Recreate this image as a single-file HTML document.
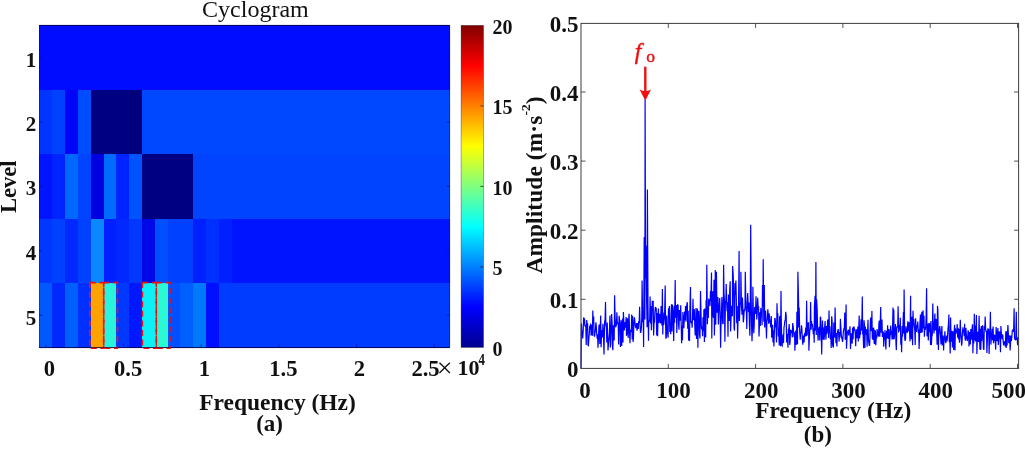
<!DOCTYPE html>
<html><head><meta charset="utf-8"><title>Cyclogram</title>
<style>
html,body{margin:0;padding:0;background:#fff;}
body{width:1025px;height:449px;overflow:hidden;}
svg{display:block;}
text{font-family:"Liberation Serif","Times New Roman",serif;fill:#111;}
.b{font-weight:bold;}
</style></head><body>
<svg width="1025" height="449" viewBox="0 0 1025 449">
<rect x="0" y="0" width="1025" height="449" fill="#ffffff"/>
<g shape-rendering="crispEdges">
<rect x="39.40" y="25.40" width="410.70" height="64.70" fill="#000cff"/>
<rect x="39.40" y="89.80" width="13.13" height="64.70" fill="#0034ff"/>
<rect x="52.23" y="89.80" width="13.13" height="64.70" fill="#0040ff"/>
<rect x="65.05" y="89.80" width="13.13" height="64.70" fill="#0004f8"/>
<rect x="77.88" y="89.80" width="13.13" height="64.70" fill="#004cff"/>
<rect x="90.70" y="89.80" width="38.77" height="64.70" fill="#000083"/>
<rect x="129.18" y="89.80" width="13.13" height="64.70" fill="#00007c"/>
<rect x="142.00" y="89.80" width="308.10" height="64.70" fill="#0048ff"/>
<rect x="39.40" y="154.20" width="13.13" height="64.70" fill="#0014ff"/>
<rect x="52.23" y="154.20" width="13.13" height="64.70" fill="#0024ff"/>
<rect x="65.05" y="154.20" width="13.13" height="64.70" fill="#0068ff"/>
<rect x="77.88" y="154.20" width="13.13" height="64.70" fill="#0044ff"/>
<rect x="90.70" y="154.20" width="13.13" height="64.70" fill="#0000e0"/>
<rect x="103.53" y="154.20" width="13.13" height="64.70" fill="#006cff"/>
<rect x="116.35" y="154.20" width="13.13" height="64.70" fill="#0024ff"/>
<rect x="129.18" y="154.20" width="13.13" height="64.70" fill="#0054ff"/>
<rect x="142.00" y="154.20" width="51.60" height="64.70" fill="#000083"/>
<rect x="193.30" y="154.20" width="256.80" height="64.70" fill="#0044ff"/>
<rect x="39.40" y="218.60" width="13.13" height="64.70" fill="#0038ff"/>
<rect x="52.23" y="218.60" width="13.13" height="64.70" fill="#0040ff"/>
<rect x="65.05" y="218.60" width="13.13" height="64.70" fill="#0028ff"/>
<rect x="77.88" y="218.60" width="13.13" height="64.70" fill="#0040ff"/>
<rect x="90.70" y="218.60" width="13.13" height="64.70" fill="#0c88ff"/>
<rect x="103.53" y="218.60" width="13.13" height="64.70" fill="#0020ff"/>
<rect x="116.35" y="218.60" width="13.13" height="64.70" fill="#0028ff"/>
<rect x="129.18" y="218.60" width="13.13" height="64.70" fill="#0038ff"/>
<rect x="142.00" y="218.60" width="13.13" height="64.70" fill="#0008e8"/>
<rect x="154.83" y="218.60" width="13.13" height="64.70" fill="#0050ff"/>
<rect x="167.65" y="218.60" width="13.13" height="64.70" fill="#0040ff"/>
<rect x="180.48" y="218.60" width="13.13" height="64.70" fill="#0040ff"/>
<rect x="193.30" y="218.60" width="13.13" height="64.70" fill="#0020ff"/>
<rect x="206.13" y="218.60" width="13.13" height="64.70" fill="#0030ff"/>
<rect x="218.95" y="218.60" width="13.13" height="64.70" fill="#0020ff"/>
<rect x="231.78" y="218.60" width="218.33" height="64.70" fill="#0014ff"/>
<rect x="39.40" y="283.00" width="13.13" height="64.70" fill="#0058ff"/>
<rect x="52.23" y="283.00" width="13.13" height="64.70" fill="#0028ff"/>
<rect x="65.05" y="283.00" width="13.13" height="64.70" fill="#0060ff"/>
<rect x="77.88" y="283.00" width="13.13" height="64.70" fill="#0030ff"/>
<rect x="90.70" y="283.00" width="13.13" height="64.70" fill="#ffa200"/>
<rect x="103.53" y="283.00" width="13.13" height="64.70" fill="#28f4dc"/>
<rect x="116.35" y="283.00" width="13.13" height="64.70" fill="#0038ff"/>
<rect x="129.18" y="283.00" width="13.13" height="64.70" fill="#0018ff"/>
<rect x="142.00" y="283.00" width="13.13" height="64.70" fill="#0cf0f8"/>
<rect x="154.83" y="283.00" width="13.13" height="64.70" fill="#2cf8d4"/>
<rect x="167.65" y="283.00" width="13.13" height="64.70" fill="#0050ff"/>
<rect x="180.48" y="283.00" width="13.13" height="64.70" fill="#0060ff"/>
<rect x="193.30" y="283.00" width="13.13" height="64.70" fill="#0078ff"/>
<rect x="206.13" y="283.00" width="13.13" height="64.70" fill="#0010ff"/>
<rect x="218.95" y="283.00" width="231.15" height="64.70" fill="#003cff"/>
</g>
<line x1="39.4" y1="25.4" x2="449.8" y2="25.4" stroke="#000050" stroke-width="0.8"/>
<line x1="39.4" y1="347.59999999999997" x2="449.8" y2="347.59999999999997" stroke="#000050" stroke-width="0.8"/>
<rect x="89.8" y="282.6" width="13.9" height="65.6" fill="none" stroke="#ee1010" stroke-width="1.6" stroke-dasharray="6 3.6"/>
<rect x="103.7" y="282.6" width="13.7" height="65.6" fill="none" stroke="#ee1010" stroke-width="1.6" stroke-dasharray="6 3.6"/>
<rect x="142.4" y="282.6" width="13.9" height="65.6" fill="none" stroke="#ee1010" stroke-width="1.6" stroke-dasharray="6 3.6"/>
<rect x="156.3" y="282.6" width="13.7" height="65.6" fill="none" stroke="#ee1010" stroke-width="1.6" stroke-dasharray="6 3.6"/>
<defs><linearGradient id="jet" x1="0" y1="1" x2="0" y2="0"><stop offset="0" stop-color="#00008f"/><stop offset="0.125" stop-color="#0000ff"/><stop offset="0.375" stop-color="#00ffff"/><stop offset="0.625" stop-color="#ffff00"/><stop offset="0.875" stop-color="#ff0000"/><stop offset="1" stop-color="#800000"/></linearGradient></defs>
<rect x="461.1" y="25.4" width="22.4" height="322.0" fill="url(#jet)"/>
<rect x="461.1" y="25.4" width="22.4" height="322.0" fill="none" stroke="#000" stroke-opacity="0.45" stroke-width="0.7"/>
<rect x="39.4" y="25.4" width="410.4" height="322.0" fill="none" stroke="#000040" stroke-opacity="0.45" stroke-width="0.7"/>
<line x1="480.4" y1="266.9" x2="483.4" y2="266.9" stroke="#222" stroke-width="0.8"/>
<line x1="480.4" y1="186.4" x2="483.4" y2="186.4" stroke="#222" stroke-width="0.8"/>
<line x1="480.4" y1="105.9" x2="483.4" y2="105.9" stroke="#222" stroke-width="0.8"/>
<text class="b" x="492.4" y="33.9" font-size="20">20</text>
<text class="b" x="492.4" y="114.3" font-size="20">15</text>
<text class="b" x="492.4" y="194.7" font-size="20">10</text>
<text class="b" x="492.4" y="275.4" font-size="20">5</text>
<text class="b" x="492.4" y="355.7" font-size="20">0</text>
<text x="255.4" y="16.8" font-size="24" text-anchor="middle">Cyclogram</text>
<text class="b" x="36.2" y="67.2" font-size="21" text-anchor="end">1</text>
<text class="b" x="36.2" y="131.0" font-size="21" text-anchor="end">2</text>
<text class="b" x="36.2" y="194.8" font-size="21" text-anchor="end">3</text>
<text class="b" x="36.2" y="260.4" font-size="21" text-anchor="end">4</text>
<text class="b" x="36.2" y="324.8" font-size="21" text-anchor="end">5</text>
<text class="b" font-size="22.5" text-anchor="middle" transform="translate(16,186.8) rotate(-90)">Level</text>
<text class="b" x="49.4" y="376.2" font-size="22.6" text-anchor="middle">0</text>
<text class="b" x="128.1" y="376.2" font-size="22.6" text-anchor="middle">0.5</text>
<text class="b" x="204.4" y="376.2" font-size="22.6" text-anchor="middle">1</text>
<text class="b" x="283.4" y="376.2" font-size="22.6" text-anchor="middle">1.5</text>
<text class="b" x="359.5" y="376.2" font-size="22.6" text-anchor="middle">2</text>
<text class="b" x="411.4" y="375.5" font-size="22.6">2.5</text>
<text x="436.8" y="376.8" font-size="28">×</text>
<text class="b" x="457.6" y="375.3" font-size="22">10</text>
<text class="b" x="478.4" y="364.7" font-size="16" textLength="6.4" lengthAdjust="spacingAndGlyphs">4</text>
<line x1="45.8" y1="347.4" x2="45.8" y2="344.4" stroke="#001090" stroke-width="0.7"/>
<line x1="123.5" y1="347.4" x2="123.5" y2="344.4" stroke="#001090" stroke-width="0.7"/>
<line x1="201.2" y1="347.4" x2="201.2" y2="344.4" stroke="#001090" stroke-width="0.7"/>
<line x1="278.9" y1="347.4" x2="278.9" y2="344.4" stroke="#001090" stroke-width="0.7"/>
<line x1="356.6" y1="347.4" x2="356.6" y2="344.4" stroke="#001090" stroke-width="0.7"/>
<line x1="434.3" y1="347.4" x2="434.3" y2="344.4" stroke="#001090" stroke-width="0.7"/>
<line x1="39.4" y1="57.6" x2="42.4" y2="57.6" stroke="#001090" stroke-width="0.7"/>
<line x1="449.8" y1="57.6" x2="446.8" y2="57.6" stroke="#001090" stroke-width="0.7"/>
<line x1="39.4" y1="122.0" x2="42.4" y2="122.0" stroke="#001090" stroke-width="0.7"/>
<line x1="449.8" y1="122.0" x2="446.8" y2="122.0" stroke="#001090" stroke-width="0.7"/>
<line x1="39.4" y1="186.4" x2="42.4" y2="186.4" stroke="#001090" stroke-width="0.7"/>
<line x1="449.8" y1="186.4" x2="446.8" y2="186.4" stroke="#001090" stroke-width="0.7"/>
<line x1="39.4" y1="250.8" x2="42.4" y2="250.8" stroke="#001090" stroke-width="0.7"/>
<line x1="449.8" y1="250.8" x2="446.8" y2="250.8" stroke="#001090" stroke-width="0.7"/>
<line x1="39.4" y1="315.2" x2="42.4" y2="315.2" stroke="#001090" stroke-width="0.7"/>
<line x1="449.8" y1="315.2" x2="446.8" y2="315.2" stroke="#001090" stroke-width="0.7"/>
<text class="b" x="277.5" y="409.5" font-size="23.45" text-anchor="middle">Frequency (Hz)</text>
<text class="b" x="269.6" y="430.8" font-size="23" text-anchor="middle">(a)</text>
<path d="M581.0 368.4 L581.4 323.6 L581.9 331.3 L582.3 332.2 L582.7 338.5 L583.2 331.1 L583.6 317.4 L584.1 324.5 L584.5 318.2 L584.9 326.4 L585.4 324.8 L585.8 327.0 L586.2 345.1 L586.7 320.1 L587.1 323.7 L587.6 323.8 L588.0 345.3 L588.4 345.6 L588.9 338.1 L589.3 333.8 L589.7 325.8 L590.2 329.4 L590.6 323.5 L591.1 335.6 L591.5 325.7 L591.9 324.9 L592.4 335.8 L592.8 310.6 L593.2 323.2 L593.7 316.6 L594.1 335.3 L594.6 336.6 L595.0 332.5 L595.4 330.0 L595.9 322.4 L596.3 326.4 L596.7 333.6 L597.2 338.8 L597.6 334.3 L598.0 347.7 L598.5 337.3 L598.9 326.4 L599.4 324.5 L599.8 344.0 L600.2 328.4 L600.7 315.4 L601.1 347.3 L601.6 332.3 L602.0 330.0 L602.4 337.4 L602.9 323.8 L603.3 329.6 L603.7 343.9 L604.0 354.6 L604.6 322.0 L605.1 319.2 L605.5 302.1 L605.9 325.2 L606.4 327.7 L606.8 342.4 L607.2 322.6 L607.7 335.3 L608.0 350.4 L608.6 342.0 L609.0 338.9 L609.4 334.4 L609.9 315.6 L610.3 347.4 L610.7 343.8 L611.2 326.5 L611.6 314.0 L612.1 322.9 L612.5 346.6 L612.9 350.2 L613.4 325.2 L613.8 336.5 L614.2 340.5 L614.6 295.2 L615.1 317.5 L615.6 327.3 L616.0 326.4 L616.4 324.4 L616.9 312.3 L617.3 322.5 L617.7 323.6 L618.2 323.3 L618.6 344.5 L619.1 315.7 L619.5 319.1 L619.9 323.5 L620.4 347.0 L620.8 335.5 L621.2 320.2 L621.7 346.0 L622.1 330.8 L622.6 318.4 L623.0 342.5 L623.4 312.0 L623.9 323.2 L624.3 330.5 L624.7 325.6 L625.2 322.2 L625.6 327.7 L626.1 317.1 L626.5 335.8 L626.9 333.2 L627.4 318.2 L627.8 328.7 L628.2 338.0 L628.7 319.1 L629.1 313.8 L629.6 333.5 L630.0 343.2 L630.4 330.3 L630.9 330.5 L631.3 332.0 L631.7 314.4 L632.2 339.5 L632.6 315.9 L633.1 342.0 L633.5 337.1 L633.9 322.4 L634.4 317.3 L634.8 320.1 L635.2 325.4 L635.7 327.5 L636.1 327.4 L636.6 323.0 L637.0 330.8 L637.4 326.1 L637.9 323.0 L638.3 328.9 L638.7 321.0 L639.2 323.1 L639.6 306.7 L640.1 325.5 L640.5 332.9 L640.9 331.8 L641.4 327.7 L641.8 317.4 L642.1 280.6 L642.7 322.1 L643.2 316.6 L643.6 347.1 L644.2 237.1 L644.6 292.4 L644.9 319.6 L645.1 99.6 L645.6 278.6 L646.0 245.4 L646.6 299.3 L647.1 327.3 L647.4 189.4 L648.0 306.2 L648.5 340.8 L648.8 320.9 L649.2 321.9 L649.7 319.6 L650.1 296.5 L650.6 323.5 L651.0 306.3 L651.4 330.3 L651.9 317.4 L652.3 300.7 L652.7 307.5 L653.2 300.7 L653.6 335.4 L654.1 322.0 L654.5 322.1 L654.9 311.8 L655.4 307.0 L656.0 308.3 L656.2 307.8 L656.7 335.5 L657.1 312.9 L657.6 336.3 L658.0 319.0 L658.4 308.4 L658.9 323.1 L659.3 319.8 L659.7 313.7 L660.2 320.9 L660.6 323.3 L661.1 306.0 L661.5 311.2 L661.9 325.4 L662.4 289.1 L662.8 334.5 L663.2 312.4 L663.7 325.0 L664.1 320.8 L664.6 314.6 L665.2 285.5 L665.4 315.2 L665.9 338.1 L666.3 337.9 L666.7 315.4 L667.2 332.4 L667.6 333.1 L668.1 337.7 L668.5 308.2 L668.9 313.8 L669.4 305.9 L669.8 332.1 L670.2 321.9 L670.7 334.3 L671.1 313.4 L671.5 304.2 L672.0 331.6 L672.4 304.5 L672.9 310.8 L673.3 323.7 L673.7 341.0 L674.2 306.1 L674.6 322.7 L675.2 280.0 L675.5 317.2 L675.9 317.0 L676.4 304.9 L676.8 332.9 L677.2 308.8 L677.7 304.8 L678.1 305.2 L678.5 323.5 L679.0 329.8 L679.4 309.9 L679.9 320.1 L680.3 320.0 L680.7 305.2 L681.2 324.3 L681.6 343.3 L682.0 325.7 L682.5 340.3 L682.9 311.9 L683.4 317.6 L683.8 328.2 L684.2 321.3 L684.7 311.6 L685.1 320.2 L685.5 305.9 L686.0 321.8 L686.4 309.1 L686.9 303.9 L687.3 302.2 L687.7 328.8 L688.2 310.8 L688.6 340.5 L689.0 333.5 L689.5 341.1 L689.9 308.5 L690.5 286.9 L690.8 321.0 L691.2 323.1 L691.7 321.1 L692.1 327.7 L692.5 318.0 L693.0 298.8 L693.4 320.2 L693.9 314.4 L694.3 308.9 L694.7 323.0 L695.2 335.5 L695.6 327.2 L696.0 307.9 L696.5 339.0 L696.9 327.6 L697.4 308.5 L697.9 347.7 L698.2 320.4 L698.7 310.8 L699.1 318.5 L699.5 334.5 L700.0 338.4 L700.5 291.0 L700.9 307.6 L701.3 325.6 L701.7 329.4 L702.2 327.2 L702.6 336.2 L703.0 317.3 L703.5 331.3 L703.9 309.3 L704.4 341.9 L704.8 308.4 L705.2 321.8 L705.7 337.5 L706.1 300.3 L706.5 315.4 L706.8 264.8 L707.4 324.3 L707.9 306.8 L708.3 318.0 L708.7 299.4 L709.2 299.8 L709.6 301.0 L710.0 306.1 L710.5 290.9 L710.9 301.1 L711.5 272.4 L711.8 338.4 L712.2 297.4 L712.7 291.2 L713.1 315.4 L713.5 318.0 L714.0 279.7 L714.4 335.4 L714.9 303.8 L715.3 270.1 L715.7 324.8 L716.2 300.3 L716.4 271.7 L717.0 312.6 L717.5 302.2 L717.9 297.0 L718.4 324.4 L718.8 312.0 L719.2 306.2 L719.7 298.1 L720.1 311.1 L720.6 347.7 L721.0 326.0 L721.4 316.0 L721.9 297.0 L722.3 309.0 L722.7 323.5 L723.2 323.3 L723.6 264.7 L724.0 293.1 L724.5 300.7 L724.9 341.8 L725.4 300.9 L725.8 303.0 L726.2 284.0 L726.7 303.8 L727.1 311.3 L727.5 302.3 L728.0 336.7 L728.4 294.5 L728.9 305.3 L729.3 320.9 L729.7 289.9 L730.2 281.2 L730.6 331.6 L731.0 320.3 L731.5 305.7 L731.9 307.3 L732.4 316.2 L732.6 266.1 L733.2 274.8 L733.7 294.1 L734.1 328.3 L734.5 330.6 L735.0 283.0 L735.4 294.8 L735.9 280.6 L736.3 297.5 L736.7 323.3 L737.2 305.9 L737.6 338.4 L738.0 321.3 L738.5 310.7 L739.1 250.9 L739.4 320.9 L739.8 311.6 L740.2 302.7 L740.7 303.9 L740.9 271.7 L741.5 306.4 L742.0 314.6 L742.4 297.5 L742.9 308.8 L743.3 322.3 L743.7 319.2 L744.2 309.5 L744.6 311.2 L745.0 307.1 L745.3 271.7 L745.9 306.7 L746.4 311.5 L746.8 328.9 L747.2 302.9 L747.7 293.1 L748.1 302.6 L748.5 312.3 L749.0 302.4 L749.4 324.3 L749.9 335.7 L750.3 308.3 L750.7 224.7 L751.2 297.8 L751.6 326.0 L752.0 341.2 L752.5 326.1 L752.9 286.8 L753.4 317.7 L753.8 333.3 L754.2 325.1 L754.7 307.0 L755.1 308.3 L755.5 313.9 L756.0 296.2 L756.4 308.3 L756.8 319.5 L757.3 311.8 L757.7 297.8 L758.2 308.3 L758.6 307.8 L759.0 336.4 L759.5 323.9 L759.9 312.2 L760.3 326.0 L760.8 307.9 L761.2 314.3 L761.7 310.3 L762.1 325.3 L762.5 285.0 L763.0 306.4 L763.2 259.2 L763.8 321.7 L764.3 285.0 L764.7 327.5 L765.2 311.9 L765.6 310.6 L766.0 323.3 L766.5 338.4 L766.9 321.2 L767.3 319.1 L767.8 309.4 L768.2 314.0 L768.7 323.7 L769.1 313.4 L769.5 317.4 L770.0 321.7 L770.4 323.7 L770.8 327.5 L771.3 316.1 L771.7 337.7 L772.2 332.5 L772.6 324.8 L773.0 342.6 L773.5 330.4 L773.9 346.6 L774.3 333.5 L774.8 318.6 L775.2 318.7 L775.7 326.2 L776.1 328.4 L776.5 342.5 L777.0 303.3 L777.4 319.9 L777.8 313.3 L778.3 336.5 L778.7 328.4 L779.2 345.6 L779.6 317.5 L780.0 315.8 L780.5 346.2 L781.0 291.0 L781.3 319.8 L781.8 345.4 L782.2 345.9 L782.7 339.2 L783.1 334.4 L783.5 343.1 L784.0 327.3 L784.4 325.0 L784.8 320.9 L785.3 320.4 L785.7 311.8 L786.2 315.7 L786.6 342.4 L787.0 333.9 L787.5 339.9 L788.0 347.7 L788.3 329.7 L788.8 328.9 L789.2 324.0 L789.7 344.9 L790.1 342.1 L790.5 329.7 L791.0 331.6 L791.4 332.8 L791.8 330.4 L792.3 337.5 L792.7 323.0 L793.2 326.6 L793.6 331.1 L794.0 337.0 L794.5 332.2 L794.9 350.7 L795.3 340.2 L795.8 330.5 L796.2 345.0 L796.7 329.2 L796.9 311.7 L797.5 344.3 L797.9 271.7 L798.6 302.8 L798.8 327.4 L799.2 307.6 L799.7 332.2 L800.2 339.8 L800.6 333.3 L801.0 332.6 L801.5 325.3 L801.9 329.4 L802.3 338.8 L802.8 344.6 L803.2 335.6 L803.7 339.0 L804.1 342.4 L804.5 333.3 L805.0 336.8 L805.4 331.4 L805.8 327.6 L806.3 336.2 L806.6 300.7 L807.2 335.4 L807.6 322.4 L808.0 331.4 L808.5 322.3 L808.9 350.8 L809.3 339.5 L809.8 330.4 L810.2 327.2 L810.6 302.1 L811.1 329.8 L811.5 321.0 L812.0 325.8 L812.4 324.1 L812.8 328.2 L813.3 334.3 L813.7 328.3 L814.2 342.8 L814.4 306.2 L815.1 295.8 L815.5 330.8 L815.9 262.0 L816.3 335.1 L816.6 299.3 L817.2 309.7 L817.7 332.9 L818.1 340.6 L818.5 330.9 L819.0 327.9 L819.4 326.8 L819.8 340.4 L820.3 316.7 L820.7 317.7 L821.2 333.2 L821.7 354.6 L822.0 337.3 L822.5 320.4 L822.9 339.8 L823.3 327.2 L823.8 337.7 L824.2 339.7 L824.7 326.8 L825.1 321.1 L825.5 333.4 L826.0 339.6 L826.4 325.9 L826.8 333.8 L827.3 330.5 L827.7 319.4 L828.2 323.0 L828.6 338.1 L829.0 310.4 L829.5 333.3 L829.9 326.2 L830.3 339.3 L830.8 333.8 L831.2 348.1 L831.7 316.3 L832.1 320.8 L832.5 344.5 L833.0 346.8 L833.4 347.4 L833.8 322.6 L834.3 337.6 L834.7 333.9 L835.1 307.6 L835.6 334.5 L836.0 343.3 L836.5 333.1 L836.9 346.4 L837.3 334.0 L837.8 330.5 L838.2 329.1 L838.7 335.5 L839.1 341.6 L839.5 331.9 L840.0 337.8 L840.4 318.9 L840.8 326.3 L841.3 334.4 L841.7 337.7 L842.2 339.8 L842.6 341.9 L843.0 336.6 L843.5 330.7 L843.9 328.6 L844.3 328.1 L844.8 312.6 L845.2 339.8 L845.6 333.2 L846.1 304.5 L846.5 348.8 L847.0 338.1 L847.4 331.8 L847.8 331.9 L848.3 329.6 L848.7 335.5 L849.1 330.0 L849.6 332.9 L850.0 326.3 L850.5 348.9 L850.9 341.5 L851.3 333.4 L851.8 342.8 L852.2 342.9 L852.6 327.6 L853.1 339.3 L853.5 327.5 L854.0 326.5 L854.4 330.5 L854.8 328.7 L855.3 334.3 L855.7 346.3 L856.1 333.6 L856.6 329.2 L857.0 338.2 L857.5 334.3 L857.9 326.5 L858.3 341.4 L858.8 327.5 L859.2 315.4 L859.6 338.4 L860.1 332.0 L860.5 334.7 L861.0 319.2 L861.4 330.5 L861.8 325.1 L862.3 296.5 L862.7 333.5 L863.1 333.4 L863.6 348.3 L864.0 320.2 L864.5 325.1 L864.9 348.1 L865.3 326.5 L865.8 334.6 L866.2 329.2 L866.6 330.0 L867.1 346.8 L867.5 335.3 L868.0 319.7 L868.4 338.6 L868.8 342.7 L869.3 345.8 L869.7 344.5 L870.1 330.3 L870.6 317.4 L871.0 329.4 L871.5 331.1 L871.9 311.0 L872.3 338.1 L872.8 339.5 L873.2 328.5 L873.6 328.3 L874.1 342.7 L874.5 344.1 L875.0 330.7 L875.4 331.1 L875.8 345.3 L876.3 335.2 L876.7 338.3 L877.1 329.1 L877.6 334.4 L878.0 334.1 L878.5 336.6 L878.9 323.7 L879.3 320.6 L879.8 336.7 L880.2 325.6 L880.7 306.9 L881.1 332.7 L881.5 326.5 L882.0 319.5 L882.4 336.9 L882.8 334.0 L883.3 331.6 L883.7 346.8 L884.1 333.2 L884.6 339.5 L885.0 329.9 L885.5 343.7 L885.9 349.4 L886.3 333.0 L886.8 331.0 L887.2 338.4 L887.6 325.2 L888.1 335.9 L888.5 338.9 L889.0 329.0 L889.4 347.1 L889.8 339.6 L890.3 333.5 L890.7 325.6 L891.1 334.8 L891.6 330.5 L892.0 339.4 L892.5 330.6 L893.0 307.6 L893.3 339.6 L893.8 309.4 L894.2 339.3 L894.6 333.2 L895.1 331.8 L895.5 324.0 L896.0 344.7 L896.4 350.1 L896.8 327.8 L897.3 326.1 L897.7 327.6 L898.1 306.2 L898.6 331.5 L899.0 331.0 L899.5 324.8 L899.9 330.0 L900.3 317.7 L900.8 344.7 L901.2 336.8 L901.6 352.2 L902.1 325.9 L902.5 336.8 L903.0 324.9 L903.4 311.9 L903.8 333.4 L904.1 289.6 L904.7 337.9 L905.1 340.9 L905.6 338.7 L906.0 326.3 L906.5 331.6 L906.9 330.9 L907.3 332.9 L907.8 321.4 L908.2 325.2 L908.6 331.4 L909.1 322.4 L909.5 330.7 L910.0 341.4 L910.6 295.8 L910.8 323.5 L911.3 339.2 L911.7 316.8 L912.1 324.9 L912.6 345.2 L913.0 310.8 L913.5 325.1 L913.9 319.0 L914.3 326.6 L914.8 330.4 L915.2 345.1 L915.6 318.2 L916.1 328.5 L916.5 331.9 L917.0 325.0 L917.4 328.0 L917.8 321.5 L918.3 332.9 L918.7 329.3 L919.1 349.0 L919.6 333.5 L920.0 321.6 L920.5 314.4 L920.9 332.9 L921.3 330.3 L921.8 311.7 L922.2 332.5 L922.6 321.1 L923.1 310.4 L923.5 328.6 L924.0 315.8 L924.4 336.7 L924.8 326.8 L925.3 329.9 L925.7 327.8 L926.1 317.0 L926.6 288.2 L927.0 336.2 L927.5 335.3 L927.9 323.8 L928.3 340.4 L928.8 323.8 L929.2 323.1 L929.6 332.1 L930.1 323.5 L930.5 345.1 L930.9 321.1 L931.4 345.1 L931.8 336.6 L932.3 335.1 L932.8 303.4 L933.1 320.2 L933.6 328.4 L934.0 333.5 L934.4 324.0 L934.9 313.6 L935.3 330.5 L935.8 327.3 L936.2 319.0 L936.6 329.2 L937.1 344.7 L937.5 306.0 L937.9 310.2 L938.4 350.0 L938.8 334.3 L939.3 330.5 L939.7 326.1 L940.1 329.1 L940.6 337.5 L941.0 344.5 L941.4 334.2 L941.9 325.9 L942.3 344.8 L942.8 344.3 L943.2 335.4 L943.6 350.5 L944.1 337.5 L944.5 339.1 L944.9 331.2 L945.4 341.4 L945.8 343.1 L946.3 338.7 L946.7 335.7 L947.1 341.2 L947.6 335.2 L948.0 328.6 L948.4 324.8 L948.9 314.5 L949.3 342.3 L949.8 339.0 L950.2 353.5 L950.6 317.5 L951.1 341.8 L951.5 335.7 L951.9 330.7 L952.4 347.4 L952.8 331.3 L953.3 335.6 L953.7 350.1 L954.1 332.8 L954.6 324.9 L955.0 350.4 L955.4 328.3 L955.9 333.6 L956.3 331.3 L956.8 331.6 L957.2 324.0 L957.6 337.5 L958.1 327.8 L958.5 339.2 L958.9 329.1 L959.4 342.7 L959.8 336.5 L960.3 319.8 L960.7 331.7 L961.1 337.0 L961.6 345.7 L962.0 342.6 L962.4 333.9 L962.9 327.4 L963.3 331.9 L963.8 331.1 L964.2 336.1 L964.6 323.8 L965.1 339.1 L965.5 340.6 L965.9 327.9 L966.4 335.2 L966.8 338.2 L967.3 340.8 L967.7 338.0 L968.1 330.3 L968.6 332.7 L969.0 346.4 L969.4 332.1 L969.9 334.3 L970.3 344.6 L970.8 329.1 L971.2 338.3 L971.6 338.8 L972.1 328.9 L972.5 324.4 L972.9 353.2 L973.4 332.1 L973.8 343.6 L974.3 313.7 L974.7 340.3 L975.1 325.6 L975.6 341.6 L976.0 328.9 L976.4 314.9 L976.9 354.0 L977.3 339.8 L977.8 331.7 L978.2 336.9 L978.6 341.9 L979.1 315.7 L979.5 335.4 L979.9 349.6 L980.4 328.7 L980.8 350.0 L981.3 326.1 L981.7 341.2 L982.1 334.9 L982.6 325.2 L983.0 335.2 L983.4 348.3 L983.9 349.9 L984.3 326.0 L984.8 329.8 L985.2 316.6 L985.6 328.8 L986.1 332.0 L986.5 330.7 L986.9 352.9 L987.4 338.9 L987.8 328.5 L988.3 330.0 L988.7 328.7 L989.1 353.9 L989.6 334.9 L990.0 332.1 L990.4 311.7 L990.9 344.6 L991.3 339.2 L991.8 336.1 L992.2 328.8 L992.6 340.2 L993.1 326.6 L993.5 343.2 L993.9 334.2 L994.4 341.0 L994.8 335.1 L995.3 342.4 L995.7 349.6 L996.1 327.1 L996.6 333.9 L997.0 341.3 L997.4 334.8 L997.9 328.1 L998.3 345.0 L998.8 337.5 L999.2 332.0 L999.6 332.1 L1000.1 339.5 L1000.5 352.3 L1000.9 326.0 L1001.4 333.8 L1001.8 336.6 L1002.3 339.1 L1002.7 334.4 L1003.1 340.3 L1003.6 345.5 L1004.0 343.0 L1004.4 341.8 L1004.9 342.0 L1005.3 346.7 L1005.8 331.3 L1006.2 348.0 L1006.6 331.2 L1007.1 345.5 L1007.5 333.8 L1007.9 325.1 L1008.4 335.1 L1008.8 343.1 L1009.3 336.4 L1009.7 335.6 L1010.1 350.5 L1010.6 342.1 L1011.0 335.5 L1011.4 340.9 L1011.9 336.2 L1012.3 330.7 L1012.8 330.4 L1013.2 329.3 L1013.6 332.0 L1014.1 308.3 L1014.5 337.2 L1014.9 339.3 L1015.4 339.7 L1015.8 338.6 L1016.3 311.7 L1016.7 339.9 L1017.1 337.3 L1017.6 345.3 L1018.0 337.3" fill="none" stroke="#0000ff" stroke-width="1.2" stroke-linejoin="miter" stroke-miterlimit="3"/>
<rect x="581.0" y="23.4" width="437.6" height="345.0" fill="none" stroke="#3c3c3c" stroke-width="1"/>
<line x1="668.3" y1="368.4" x2="668.3" y2="363.9" stroke="#3c3c3c" stroke-width="0.9"/>
<line x1="668.3" y1="23.4" x2="668.3" y2="27.9" stroke="#3c3c3c" stroke-width="0.9"/>
<line x1="755.6" y1="368.4" x2="755.6" y2="363.9" stroke="#3c3c3c" stroke-width="0.9"/>
<line x1="755.6" y1="23.4" x2="755.6" y2="27.9" stroke="#3c3c3c" stroke-width="0.9"/>
<line x1="842.9" y1="368.4" x2="842.9" y2="363.9" stroke="#3c3c3c" stroke-width="0.9"/>
<line x1="842.9" y1="23.4" x2="842.9" y2="27.9" stroke="#3c3c3c" stroke-width="0.9"/>
<line x1="930.2" y1="368.4" x2="930.2" y2="363.9" stroke="#3c3c3c" stroke-width="0.9"/>
<line x1="930.2" y1="23.4" x2="930.2" y2="27.9" stroke="#3c3c3c" stroke-width="0.9"/>
<line x1="1017.5" y1="368.4" x2="1017.5" y2="363.9" stroke="#3c3c3c" stroke-width="0.9"/>
<line x1="1017.5" y1="23.4" x2="1017.5" y2="27.9" stroke="#3c3c3c" stroke-width="0.9"/>
<line x1="581.0" y1="299.3" x2="585.5" y2="299.3" stroke="#3c3c3c" stroke-width="0.9"/>
<line x1="1018.6" y1="299.3" x2="1014.1" y2="299.3" stroke="#3c3c3c" stroke-width="0.9"/>
<line x1="581.0" y1="230.2" x2="585.5" y2="230.2" stroke="#3c3c3c" stroke-width="0.9"/>
<line x1="1018.6" y1="230.2" x2="1014.1" y2="230.2" stroke="#3c3c3c" stroke-width="0.9"/>
<line x1="581.0" y1="161.1" x2="585.5" y2="161.1" stroke="#3c3c3c" stroke-width="0.9"/>
<line x1="1018.6" y1="161.1" x2="1014.1" y2="161.1" stroke="#3c3c3c" stroke-width="0.9"/>
<line x1="581.0" y1="92.0" x2="585.5" y2="92.0" stroke="#3c3c3c" stroke-width="0.9"/>
<line x1="1018.6" y1="92.0" x2="1014.1" y2="92.0" stroke="#3c3c3c" stroke-width="0.9"/>
<text class="b" x="578.6" y="377.2" font-size="23" text-anchor="end">0</text>
<text class="b" x="578.6" y="308.1" font-size="23" text-anchor="end">0.1</text>
<text class="b" x="578.6" y="239.0" font-size="23" text-anchor="end">0.2</text>
<text class="b" x="578.6" y="169.9" font-size="23" text-anchor="end">0.3</text>
<text class="b" x="578.6" y="100.8" font-size="23" text-anchor="end">0.4</text>
<text class="b" x="578.6" y="31.7" font-size="23" text-anchor="end">0.5</text>
<text class="b" x="584.9" y="398.1" font-size="23" text-anchor="middle">0</text>
<text class="b" x="673.4" y="398.1" font-size="23" text-anchor="middle">100</text>
<text class="b" x="761.2" y="398.1" font-size="23" text-anchor="middle">200</text>
<text class="b" x="848.4" y="398.1" font-size="23" text-anchor="middle">300</text>
<text class="b" x="935.7" y="398.1" font-size="23" text-anchor="middle">400</text>
<text class="b" x="991.4" y="398.1" font-size="23">500</text>
<text class="b" x="833.2" y="418.0" font-size="23.4" text-anchor="middle">Frequency (Hz)</text>
<text class="b" x="817.9" y="441.8" font-size="23" text-anchor="middle">(b)</text>
<text class="b" font-size="23.4" letter-spacing="0.1" transform="translate(541.7,273.6) rotate(-90)">Amplitude (m·s<tspan font-size="13.5" dy="-11.5">-2</tspan><tspan dy="11.5">)</tspan></text>
<line x1="645.3" y1="66.7" x2="645.3" y2="92" stroke="#f01010" stroke-width="2.4"/>
<path d="M645.3 100.8 L639.6 89.6 Q645.3 92.6 651 89.6 Z" fill="#f01010"/>
<text x="634.8" y="59.3" font-size="23.5" font-style="italic" style="fill:#e81010;stroke:#e81010;stroke-width:0.45">f</text>
<text x="646.2" y="62.4" font-size="17.5" style="fill:#e81010;stroke:#e81010;stroke-width:0.4">o</text>
</svg>
</body></html>
